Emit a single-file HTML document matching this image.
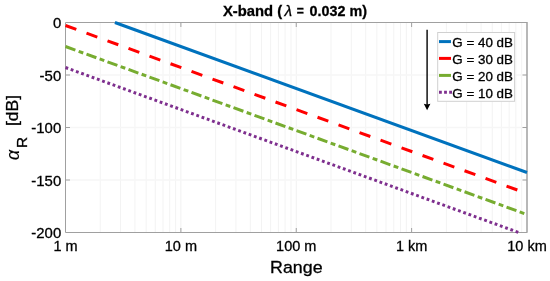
<!DOCTYPE html><html><head><meta charset="utf-8"><style>html,body{margin:0;padding:0;background:#fff;width:550px;height:281px;overflow:hidden}svg{display:block}text{font-family:"Liberation Sans", Arial, Helvetica, sans-serif;fill:#000;stroke:#000;stroke-width:0.3px}</style></head><body>
<svg width="550" height="281" viewBox="0 0 550 281">
<rect width="550" height="281" fill="#fff"/>
<path d="M100.23 22.5V232.5M120.55 22.5V232.5M134.96 22.5V232.5M146.14 22.5V232.5M155.28 22.5V232.5M163.00 22.5V232.5M169.69 22.5V232.5M175.60 22.5V232.5M215.61 22.5V232.5M235.92 22.5V232.5M250.34 22.5V232.5M261.52 22.5V232.5M270.65 22.5V232.5M278.38 22.5V232.5M285.07 22.5V232.5M290.97 22.5V232.5M330.98 22.5V232.5M351.30 22.5V232.5M365.71 22.5V232.5M376.89 22.5V232.5M386.03 22.5V232.5M393.75 22.5V232.5M400.44 22.5V232.5M406.35 22.5V232.5M446.36 22.5V232.5M466.67 22.5V232.5M481.09 22.5V232.5M492.27 22.5V232.5M501.40 22.5V232.5M509.13 22.5V232.5M515.82 22.5V232.5M521.72 22.5V232.5" stroke="#F3F3F3" stroke-width="1" fill="none"/>
<path d="M180.88 22.5V232.5M296.25 22.5V232.5M411.62 22.5V232.5" stroke="#F1F1F1" stroke-width="1" fill="none"/>
<path d="M65.5 75.00H527M65.5 127.50H527M65.5 180.00H527" stroke="#F6F6F6" stroke-width="1.5" fill="none"/>
<path d="M527 22.5H65.5V232.5H527" stroke="#A0A0A0" stroke-width="1" fill="none"/>
<path d="M527 22V232.8" stroke="#A0A0A0" stroke-width="1.5" fill="none"/>
<path d="M114.90 22.50L527.00 172.52" stroke="#0072BD" stroke-width="3.00" fill="none"/>
<path d="M65.50 25.52L527.00 193.52" stroke="#FF0000" stroke-width="3.00" fill="none" stroke-dasharray="11.5 10.85"/>
<path d="M65.50 46.52L527.00 214.52" stroke="#77AC30" stroke-width="3.00" fill="none" stroke-dasharray="10.5 3.5 4.9 3.45"/>
<path d="M65.50 67.52L518.71 232.50" stroke="#7E2F8E" stroke-width="3.00" fill="none" stroke-dasharray="2.8 2.77"/>
<path d="M180.88 232.5V228M180.88 22.5V27M296.25 232.5V228M296.25 22.5V27M411.62 232.5V228M411.62 22.5V27M65.5 75.00H70M527 75.00H522.5M65.5 127.50H70M527 127.50H522.5M65.5 180.00H70M527 180.00H522.5" stroke="#A0A0A0" stroke-width="1" fill="none"/>
<text transform="translate(61.20 28.10) scale(1.0300 1)" font-size="14.50" text-anchor="end">0</text>
<text transform="translate(61.20 80.60) scale(1.0300 1)" font-size="14.50" text-anchor="end">-50</text>
<text transform="translate(61.20 133.10) scale(1.0300 1)" font-size="14.50" text-anchor="end">-100</text>
<text transform="translate(61.20 185.60) scale(1.0300 1)" font-size="14.50" text-anchor="end">-150</text>
<text transform="translate(61.20 238.10) scale(1.0300 1)" font-size="14.50" text-anchor="end">-200</text>
<text transform="translate(65.50 251.40)" font-size="14.50" text-anchor="middle">1 m</text>
<text transform="translate(180.88 251.40)" font-size="14.50" text-anchor="middle">10 m</text>
<text transform="translate(296.25 251.40)" font-size="14.50" text-anchor="middle">100 m</text>
<text transform="translate(411.62 251.40)" font-size="14.50" text-anchor="middle">1 km</text>
<text transform="translate(527.00 251.40)" font-size="14.50" text-anchor="middle">10 km</text>
<text transform="translate(296.30 272.60) scale(1.0800 1)" font-size="16.50" text-anchor="middle">Range</text>
<text transform="translate(17.60 126.00) rotate(-90) scale(1.0600 1)" font-size="16.50" text-anchor="start">[dB]</text>
<text transform="translate(19.20 160.00) rotate(-90)" font-size="17.80" text-anchor="start" font-family="'Liberation Serif', serif" font-style="italic" style="stroke-width:0.1px">&#945;</text>
<text transform="translate(26.80 148.10) rotate(-90) scale(1.0200 1)" font-size="15.00" text-anchor="start">R</text>
<text transform="translate(223.00 15.60)" font-size="14.80" text-anchor="start" font-weight="bold">X-band (</text>
<text transform="translate(284.60 16.40)" font-size="15.50" text-anchor="start" font-family="'Liberation Serif', serif" font-style="italic">&#955;</text>
<text transform="translate(296.70 15.60) scale(0.8200 1)" font-size="14.80" text-anchor="start" font-weight="bold">=</text>
<text transform="translate(309.60 15.60) scale(0.9700 1)" font-size="14.80" text-anchor="start" font-weight="bold">0.032 m)</text>
<rect x="437.7" y="32.5" width="76.9" height="68.8" fill="#fff" stroke="#D0D0D0" stroke-width="1"/>
<path d="M439 41.60H451" stroke="#0072BD" stroke-width="3" fill="none"/>
<text transform="translate(452.30 46.90) scale(1.0300 1)" font-size="13.00" text-anchor="start">G = 40 dB</text>
<path d="M439 58.40H451" stroke="#FF0000" stroke-width="3" fill="none"/>
<text transform="translate(452.30 63.70) scale(1.0300 1)" font-size="13.00" text-anchor="start">G = 30 dB</text>
<path d="M439 75.40H451" stroke="#77AC30" stroke-width="3" fill="none"/>
<text transform="translate(452.30 80.70) scale(1.0300 1)" font-size="13.00" text-anchor="start">G = 20 dB</text>
<path d="M439 92.20H452" stroke="#7E2F8E" stroke-width="3" stroke-dasharray="2.8 2.3" fill="none"/>
<text transform="translate(452.30 97.50) scale(1.0300 1)" font-size="13.00" text-anchor="start">G = 10 dB</text>
<path d="M427.1 29.8V105" stroke="#000" stroke-width="1.4" fill="none"/>
<path d="M423.8 103.8L427.1 104.6L430.4 103.8L427.1 110.2Z" fill="#000"/>
</svg></body></html>
